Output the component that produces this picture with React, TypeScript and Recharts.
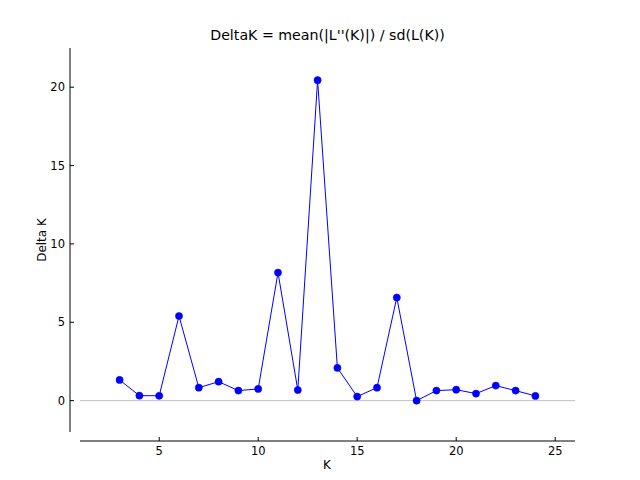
import { CartesianGrid, Customized, Line, LineChart, ReferenceLine, XAxis, YAxis } from "recharts";

const kValues = [3, 4, 5, 6, 7, 8, 9, 10, 11, 12, 13, 14, 15, 16, 17, 18, 19, 20, 21, 22, 23, 24];
const deltaK = [
  1.32, 0.32, 0.31, 5.4, 0.83, 1.21, 0.64, 0.75, 8.17, 0.68, 20.45, 2.09, 0.26, 0.83, 6.58, 0.0,
  0.64, 0.7, 0.45, 0.96, 0.64, 0.3,
];
const xTicks = [5, 10, 15, 20, 25];
const yTicks = [0, 5, 10, 15, 20];

const FONT = "'DejaVu Sans', sans-serif";
// plot box (matplotlib-ish, spines pushed out by 10px)
const LEFT = 80;
const RIGHT = 575;
const TOP = 48;
const BOTTOM = 432;
const SPINE_OFF = 10;

const data = kValues.map((k, i) => ({ k, dk: deltaK[i] }));

function XTick(props: any) {
  const { x, payload } = props;
  const y0 = BOTTOM + SPINE_OFF - 1;
  return (
    <g>
      <line x1={x} x2={x} y1={y0} y2={y0 - 4} stroke="#000" strokeWidth={1} />
      <text x={x} y={455} textAnchor="middle" fontSize={11.5} fontFamily={FONT} fill="#000">
        {payload.value}
      </text>
    </g>
  );
}

function YTick(props: any) {
  const { y, payload } = props;
  const x0 = LEFT - SPINE_OFF;
  return (
    <g>
      <line x1={x0} x2={x0 + 4} y1={y} y2={y} stroke="#000" strokeWidth={1} />
      <text x={65} y={y} dy="0.36em" textAnchor="end" fontSize={11.5} fontFamily={FONT} fill="#000">
        {payload.value}
      </text>
    </g>
  );
}

function Frame() {
  return (
    <g>
      <line x1={LEFT - SPINE_OFF} x2={LEFT - SPINE_OFF} y1={TOP} y2={BOTTOM} stroke="#000" strokeWidth={1} />
      <line x1={LEFT} x2={RIGHT} y1={BOTTOM + SPINE_OFF - 1} y2={BOTTOM + SPINE_OFF - 1} stroke="#000" strokeWidth={1} />
      <text x={(LEFT + RIGHT) / 2} y={40} textAnchor="middle" fontSize={14.2} fontFamily={FONT} fill="#000">
        DeltaK = mean(|L''(K)|) / sd(L(K))
      </text>
      <text x={327} y={469} textAnchor="middle" fontSize={12} fontFamily={FONT} fill="#000">
        K
      </text>
      <text
        x={46}
        y={240}
        textAnchor="middle"
        fontSize={12}
        fontFamily={FONT}
        fill="#000"
        transform="rotate(-90 46 240)"
      >
        Delta K
      </text>
    </g>
  );
}

export default function App() {
  return (
    <div style={{ position: "absolute", left: 0, top: 0, width: 640, height: 480, background: "#fff" }}>
      <LineChart
        width={640}
        height={480}
        data={data}
        margin={{ top: TOP, right: 640 - RIGHT, bottom: 8, left: 30 }}
      >
        <CartesianGrid stroke="none" />
        <XAxis
          type="number"
          dataKey="k"
          domain={[1, 26]}
          ticks={xTicks}
          axisLine={false}
          tickLine={false}
          height={40}
          tick={<XTick />}
          allowDataOverflow
        />
        <YAxis
          type="number"
          domain={[-2, 22.5]}
          ticks={yTicks}
          axisLine={false}
          tickLine={false}
          width={50}
          tick={<YTick />}
          allowDataOverflow
        />
        <ReferenceLine y={0} stroke="#c0c0c0" strokeWidth={1} />
        <Line
          type="linear"
          dataKey="dk"
          stroke="#0000ff"
          strokeWidth={1}
          dot={{ r: 3.6, fill: "#0000ff", stroke: "#0000ff", strokeWidth: 0.5 }}
          isAnimationActive={false}
        />
        <Customized component={<Frame />} />
      </LineChart>
    </div>
  );
}
